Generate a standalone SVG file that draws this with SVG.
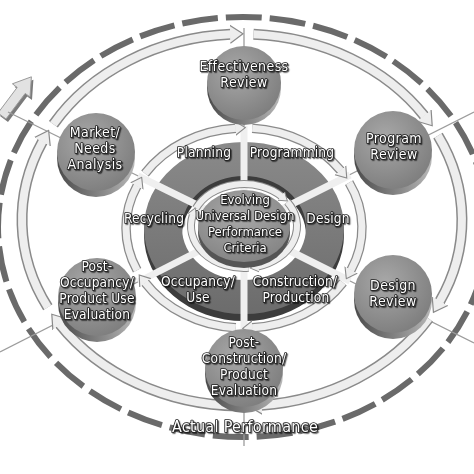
<svg xmlns="http://www.w3.org/2000/svg" width="474" height="474" viewBox="0 0 474 474">
<defs>
<style>
.lbl{font-family:"DejaVu Sans Condensed","DejaVu Sans",sans-serif;font-stretch:condensed;fill:#fff;stroke:#1e1e1e;stroke-width:1.7;stroke-linejoin:round;paint-order:stroke fill;text-anchor:middle;filter:url(#sh)}
.big{font-size:14px;letter-spacing:0.4px}
.mid{font-size:13.6px;letter-spacing:0.2px}
.sm{font-size:13px}
.conn{stroke:#9c9c9c;stroke-width:1.3;fill:none}
.gap{stroke:#efefef;stroke-width:7;fill:none}
.bandU{fill:none;stroke:#8a8a8a}
.bandT{fill:none;stroke:#eeeeee}
.ntop{fill:url(#nodeTop)}
.nside{fill:url(#nodeSide)}
</style>
<filter id="sh" x="-10%" y="-30%" width="130%" height="170%">
<feDropShadow dx="1.2" dy="1.2" stdDeviation="0.7" flood-color="#000" flood-opacity="0.6"/>
</filter>
<radialGradient id="nodeTop" cx="0.4" cy="0.35" r="0.75">
<stop offset="0" stop-color="#a8a8a8"/><stop offset="1" stop-color="#7a7a7a"/>
</radialGradient>
<linearGradient id="nodeSide" x1="0" y1="0" x2="1" y2="0">
<stop offset="0" stop-color="#4a4a4a"/><stop offset="0.6" stop-color="#8a8a8a"/><stop offset="1" stop-color="#b8b8b8"/>
</linearGradient>
<linearGradient id="segTop" x1="0" y1="0" x2="0" y2="1">
<stop offset="0" stop-color="#8a8a8a"/><stop offset="1" stop-color="#6c6c6c"/>
</linearGradient>
<radialGradient id="discTop" cx="0.45" cy="0.35" r="0.75">
<stop offset="0" stop-color="#a9a9a9"/><stop offset="1" stop-color="#808080"/>
</radialGradient>
<marker id="hBig" viewBox="0 0 14 20" refX="0.5" refY="10" markerWidth="14" markerHeight="20" markerUnits="userSpaceOnUse" orient="auto">
<path d="M0,1 L13,10 L0,19" fill="#eeeeee" stroke="#8a8a8a" stroke-width="1.2"/>
</marker>
<marker id="hMid" viewBox="0 0 11 16" refX="0.5" refY="8" markerWidth="11" markerHeight="16" markerUnits="userSpaceOnUse" orient="auto">
<path d="M0,1 L10,8 L0,15" fill="#eeeeee" stroke="#8a8a8a" stroke-width="1.1"/>
</marker>
<marker id="hSm" viewBox="0 0 9 13" refX="0.5" refY="6.5" markerWidth="9" markerHeight="13" markerUnits="userSpaceOnUse" orient="auto">
<path d="M0,1 L8,6.5 L0,12" fill="#eeeeee" stroke="#8a8a8a" stroke-width="1"/>
</marker>
</defs>
<rect width="474" height="474" fill="#ffffff"/>

<!-- outer dashed ring -->
<ellipse cx="243" cy="227" rx="245" ry="210" fill="none" stroke="#6a6a6a" stroke-width="6" stroke-dasharray="36 8"/>

<!-- block arrow upper left -->
<g id="exit-arrow">
<polygon points="-2,113 17.2,87.4 12.4,83.8 31.4,76.8 30,97 25.2,93.4 6,119" fill="#7a7a7a" transform="translate(2,3)"/>
<polygon points="-2,113 17.2,87.4 12.4,83.8 31.4,76.8 30,97 25.2,93.4 6,119" fill="#e2e2e2" stroke="#9a9a9a" stroke-width="1"/>
</g>

<g id="connectors">
<line class="conn" x1="244" y1="228" x2="244" y2="28"/>
<line class="conn" x1="244" y1="228" x2="474" y2="112"/>
<line class="conn" x1="244" y1="228" x2="474" y2="343"/>
<line class="conn" x1="244" y1="228" x2="244" y2="446"/>
<line class="conn" x1="244" y1="228" x2="0" y2="352"/>
<line class="conn" x1="244" y1="228" x2="8" y2="112"/>
<!-- big cycle -->
<g>
<path class="bandU" stroke-width="11" d="M253.5,34.3 A220,186 0 0 1 424.4,116.0"/>
<path class="bandU" stroke-width="11" d="M438.0,135.6 A220,186 0 0 1 439.7,301.5"/>
<path class="bandU" stroke-width="11" d="M428.6,318.6 A220,186 0 0 1 261.2,405.3"/>
<path class="bandU" stroke-width="11" d="M238.2,406.0 A220,186 0 0 1 59.6,324.0"/>
<path class="bandU" stroke-width="11" d="M47.8,307.3 A220,186 0 0 1 42.6,141.4"/>
<path class="bandU" stroke-width="11" d="M53.4,124.2 A220,186 0 0 1 230.5,34.3"/>
<path class="bandT" stroke-width="8" marker-end="url(#hBig)" d="M253.5,34.3 A220,186 0 0 1 424.4,116.0"/>
<path class="bandT" stroke-width="8" marker-end="url(#hBig)" d="M438.0,135.6 A220,186 0 0 1 439.7,301.5"/>
<path class="bandT" stroke-width="8" marker-end="url(#hBig)" d="M428.6,318.6 A220,186 0 0 1 261.2,405.3"/>
<path class="bandT" stroke-width="8" marker-end="url(#hBig)" d="M238.2,406.0 A220,186 0 0 1 59.6,324.0"/>
<path class="bandT" stroke-width="8" marker-end="url(#hBig)" d="M47.8,307.3 A220,186 0 0 1 42.6,141.4"/>
<path class="bandT" stroke-width="8" marker-end="url(#hBig)" d="M53.4,124.2 A220,186 0 0 1 230.5,34.3"/>
</g>
</g>

<!-- segmented ring -->
<g id="segments">
<path d="M144,228 A100,86 0 1 0 344,228 A100,86 0 1 0 144,228 Z M182,228 A62,52 0 1 0 306,228 A62,52 0 1 0 182,228 Z" fill-rule="evenodd" fill="#3c3c3c" transform="translate(0,7)"/>
<path d="M144,228 A100,86 0 1 0 344,228 A100,86 0 1 0 144,228 Z M182,228 A62,52 0 1 0 306,228 A62,52 0 1 0 182,228 Z" fill-rule="evenodd" fill="url(#segTop)"/>
<line class="gap" x1="244" y1="228" x2="244" y2="126"/>
<line class="gap" x1="244" y1="228" x2="350" y2="175"/>
<line class="gap" x1="244" y1="228" x2="350" y2="281"/>
<line class="gap" x1="244" y1="228" x2="244" y2="332"/>
<line class="gap" x1="244" y1="228" x2="138" y2="282"/>
<line class="gap" x1="244" y1="228" x2="138" y2="176"/>
</g>

<g id="inner-cycle">
<path class="bandU" stroke-width="9.5" d="M252.2,128.2 A118,100 0 0 1 340.7,170.6"/>
<path class="bandU" stroke-width="9.5" d="M349.1,182.6 A118,100 0 0 1 350.9,270.3"/>
<path class="bandU" stroke-width="9.5" d="M343.0,282.5 A118,100 0 0 1 252.2,327.8"/>
<path class="bandU" stroke-width="9.5" d="M235.8,327.8 A118,100 0 0 1 145.0,282.5"/>
<path class="bandU" stroke-width="9.5" d="M137.1,270.3 A118,100 0 0 1 137.1,185.7"/>
<path class="bandU" stroke-width="9.5" d="M145.0,173.5 A118,100 0 0 1 235.8,128.2"/>
<path class="bandT" stroke-width="7" marker-end="url(#hMid)" d="M252.2,128.2 A118,100 0 0 1 340.7,170.6"/>
<path class="bandT" stroke-width="7" marker-end="url(#hMid)" d="M349.1,182.6 A118,100 0 0 1 350.9,270.3"/>
<path class="bandT" stroke-width="7" marker-end="url(#hMid)" d="M343.0,282.5 A118,100 0 0 1 252.2,327.8"/>
<path class="bandT" stroke-width="7" marker-end="url(#hMid)" d="M235.8,327.8 A118,100 0 0 1 145.0,282.5"/>
<path class="bandT" stroke-width="7" marker-end="url(#hMid)" d="M137.1,270.3 A118,100 0 0 1 137.1,185.7"/>
<path class="bandT" stroke-width="7" marker-end="url(#hMid)" d="M145.0,173.5 A118,100 0 0 1 235.8,128.2"/>
</g>

<g id="center-cycle">
<path class="bandU" stroke-width="8" d="M196.0,208.3 A53,42 0 0 1 281.5,196.3"/>
<path class="bandU" stroke-width="8" d="M287.4,201.9 A53,42 0 0 1 257.7,266.6"/>
<path class="bandU" stroke-width="8" d="M248.6,267.8 A53,42 0 0 1 192.8,215.1"/>
<path class="bandT" stroke-width="6" marker-end="url(#hSm)" d="M196.0,208.3 A53,42 0 0 1 281.5,196.3"/>
<path class="bandT" stroke-width="6" marker-end="url(#hSm)" d="M287.4,201.9 A53,42 0 0 1 257.7,266.6"/>
<path class="bandT" stroke-width="6" marker-end="url(#hSm)" d="M248.6,267.8 A53,42 0 0 1 192.8,215.1"/>
</g>

<g id="criteria">
<ellipse cx="244" cy="232" rx="46" ry="36" fill="#555"/>
<ellipse cx="244" cy="226" rx="46" ry="36" fill="url(#discTop)"/>
<text class="lbl sm" x="245" y="204">Evolving</text>
<text class="lbl sm" x="245" y="220">Universal Design</text>
<text class="lbl sm" x="245" y="236">Performance</text>
<text class="lbl sm" x="245" y="252">Criteria</text>
</g>

<g id="phase-labels">
<text class="lbl mid" x="204" y="157">Planning</text>
<text class="lbl mid" x="292" y="157">Programming</text>
<text class="lbl mid" x="154" y="223">Recycling</text>
<text class="lbl mid" x="328" y="223">Design</text>
<text class="lbl mid" x="198" y="286">Occupancy/</text>
<text class="lbl mid" x="198" y="302">Use</text>
<text class="lbl mid" x="295" y="286">Construction/</text>
<text class="lbl mid" x="296" y="302">Production</text>
</g>

<g id="node-effectiveness">
<circle class="nside" cx="244" cy="88" r="37"/>
<circle class="ntop" cx="244" cy="83" r="37"/>
<text class="lbl big" x="244" y="71">Effectiveness</text>
<text class="lbl big" x="244" y="87">Review</text>
</g>
<g id="node-program">
<circle class="nside" cx="393" cy="156" r="39"/>
<circle class="ntop" cx="393" cy="150" r="39"/>
<text class="lbl big" x="394" y="143">Program</text>
<text class="lbl big" x="394" y="159">Review</text>
</g>
<g id="node-design">
<circle class="nside" cx="393" cy="300" r="39"/>
<circle class="ntop" cx="393" cy="294" r="39"/>
<text class="lbl big" x="393" y="290">Design</text>
<text class="lbl big" x="393" y="306">Review</text>
</g>
<g id="node-postconstruction">
<circle class="nside" cx="244" cy="374" r="39"/>
<circle class="ntop" cx="244" cy="368" r="39"/>
<text class="lbl mid" x="244" y="347">Post-</text>
<text class="lbl mid" x="244" y="363">Construction/</text>
<text class="lbl mid" x="244" y="379">Product</text>
<text class="lbl mid" x="244" y="395">Evaluation</text>
</g>
<g id="node-postoccupancy">
<circle class="nside" cx="97" cy="303" r="39"/>
<circle class="ntop" cx="97" cy="297" r="39"/>
<text class="lbl mid" x="97" y="271">Post-</text>
<text class="lbl mid" x="97" y="287">Occupancy/</text>
<text class="lbl mid" x="97" y="303">Product Use</text>
<text class="lbl mid" x="97" y="319">Evaluation</text>
</g>
<g id="node-market">
<circle class="nside" cx="96" cy="158" r="39"/>
<circle class="ntop" cx="96" cy="152" r="39"/>
<text class="lbl big" x="95" y="137">Market/</text>
<text class="lbl big" x="95" y="153">Needs</text>
<text class="lbl big" x="95" y="169">Analysis</text>
</g>

<text class="lbl" style="font-size:16px;letter-spacing:0.3px" x="245" y="432">Actual Performance</text>
</svg>
